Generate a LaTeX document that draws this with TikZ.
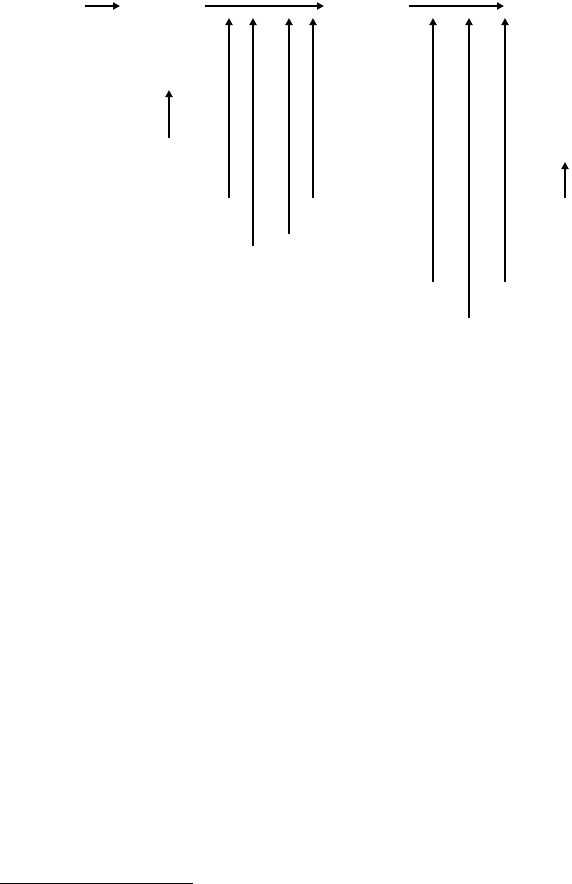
\documentclass[tikz,border=0pt]{standalone}
\usetikzlibrary{arrows.meta}
\begin{document}
\begin{tikzpicture}[x=1pt,y=-1pt,line width=2pt,
	vec/.style={-{Triangle[length=7pt,width=7pt]}}]
		\useasboundingbox (0,0) rectangle (571,884);
		%top arrows
		\foreach \a/\b [count=\i] in {85/120,205/324,409/504}{
		\coordinate (hs\i) at (\a,6); \coordinate (he\i) at (\b,6);
		\draw[vec] (hs\i) -- (he\i);}
		%long arrows
		\foreach \x/\y in {229/198,253/246,289/234,313/198,433/282,469/318,505/282}{
		\coordinate (vs\x) at (\x,\y); \coordinate (ve\x) at (\x,18);
		\draw[vec] (vs\x) -- (ve\x);}
		%short arrows
		\coordinate (sa) at (169,138); \coordinate (sb) at (169,90);
		\coordinate (sc) at (565,198); \coordinate (sd) at (565,162);
		\draw[vec] (sa) -- (sb);
		\draw[vec] (sc) -- (sd);
		\coordinate (ra) at (0,883); \coordinate (rb) at (193,883);
		\draw[line width=1pt] (ra) -- (rb); %rule
		\end{tikzpicture}
\end{document}
